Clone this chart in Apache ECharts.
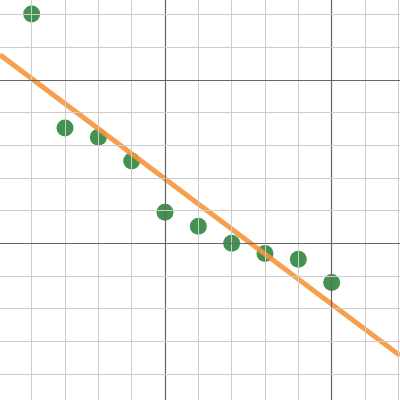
<!DOCTYPE html>
<html><head><meta charset="utf-8">
<script src="https://cdn.jsdelivr.net/npm/echarts@6/dist/echarts.min.js"></script>
<style>html,body{margin:0;padding:0;background:#fff}#main{width:400px;height:400px}</style>
</head><body><div id="main"></div>
<script>
const xs = [-4, -3, -2, -1, 0, 1, 2, 3, 4, 5];
const ys = [7.02, 3.53, 3.25, 2.52, 0.95, 0.52, 0.0, -0.31, -0.49, -1.2];
const fitLine = [[-4.95, 5.77], [7.05, -3.44]];
const xRange = [-4.95, 7.05];
const yRange = [-4.8, 7.45];
const gridX = [-4, -3, -2, -1, 0, 1, 2, 3, 4, 5, 6, 7];
const gridY = [-4, -3, -2, -1, 0, 1, 2, 3, 4, 5, 6, 7];
const majors = [0, 5];

function gridLines() {
  const d = [];
  gridX.forEach(v => d.push({ xAxis: v, lineStyle: { color: majors.includes(v) ? '#666' : '#ccc', width: majors.includes(v) ? 1.2 : 1 } }));
  gridY.forEach(v => d.push({ yAxis: v, lineStyle: { color: majors.includes(v) ? '#666' : '#ccc', width: majors.includes(v) ? 1.2 : 1 } }));
  return d;
}

var myChart = echarts.init(document.getElementById('main'));
myChart.setOption({
  animation: false,
  grid: { left: 0, right: 0, top: 0, bottom: 0 },
  xAxis: { type: 'value', min: xRange[0], max: xRange[1], show: false },
  yAxis: { type: 'value', min: yRange[0], max: yRange[1], show: false },
  series: [
    {
      type: 'line', data: [], silent: true,
      markLine: { symbol: 'none', silent: true, label: { show: false }, lineStyle: { type: 'solid' }, data: gridLines() }
    },
    {
      type: 'line', data: fitLine, showSymbol: false, silent: true,
      lineStyle: { color: '#f7953a', width: 5, opacity: 0.9 }
    },
    {
      type: 'scatter', data: xs.map((x, i) => [x, ys[i]]), symbolSize: 17,
      itemStyle: { color: '#3a8c46', opacity: 0.95 }
    }
  ]
});
</script></body></html>
